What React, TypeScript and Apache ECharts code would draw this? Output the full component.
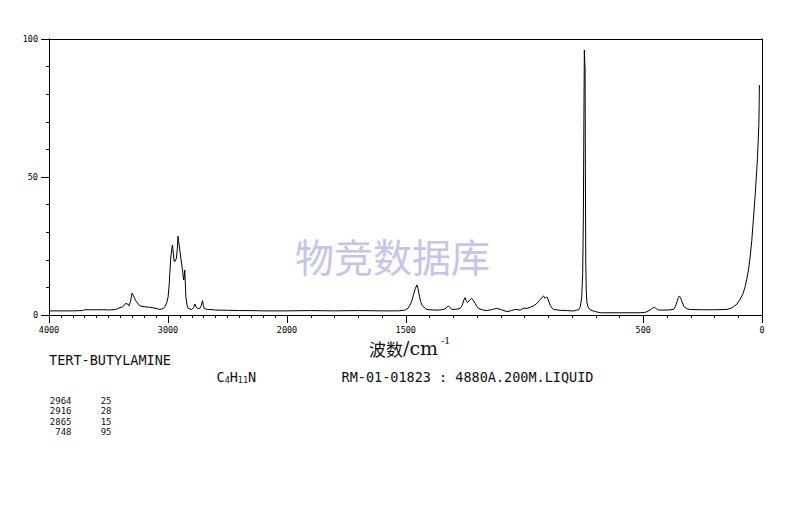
import React, { useEffect, useRef } from "react";
import * as echarts from "echarts";

// Raman spectrum of tert-butylamine (wavenumber in cm-1, relative intensity)
const wavenumbers = [
  4000, 3900, 3800, 3720, 3700, 3600, 3520, 3500, 3440, 3420, 3380, 3356, 3340, 3328, 3315, 3302, 3290, 3275, 3265,
  3238, 3200, 3153, 3100, 3069, 3040, 3027, 3010, 2999, 2990, 2985, 2976, 2968, 2962, 2955, 2948, 2943, 2935, 2929,
  2922, 2916, 2912, 2905, 2901, 2890, 2878, 2870, 2867, 2862, 2859, 2855, 2850, 2840, 2830, 2802, 2785, 2775, 2765,
  2755, 2732, 2720, 2710, 2703, 2696, 2670, 2648, 2600, 2500, 2400, 2300, 2200, 2100, 2000, 1900, 1800, 1700, 1600,
  1530, 1510, 1502, 1490, 1482, 1475, 1468, 1460, 1453, 1448, 1442, 1437, 1432, 1420, 1411, 1380, 1355, 1335, 1320,
  1312, 1306, 1285, 1271, 1262, 1255, 1250, 1245, 1240, 1230, 1222, 1215, 1208, 1200, 1194, 1175, 1159, 1135, 1117,
  1100, 1074, 1055, 1039, 1018, 1002, 990, 976, 960, 948, 935, 925, 920, 913, 906, 900, 892, 885, 878, 850, 822, 794,
  780, 773, 765, 759, 755, 752, 750, 748, 746.5, 745, 743.5, 742, 740, 737.5, 733, 723, 700, 681, 600, 513, 490, 471,
  460, 453, 445, 436, 400, 373, 365, 358, 352, 347.5, 342, 337, 328, 315, 302, 250, 200, 148, 130, 120, 105, 94, 80,
  71, 64, 57, 50, 43, 36, 29, 24, 19, 16, 13, 11,
];
const intensities = [
  1.5, 1.5, 1.5, 1.6, 1.9, 1.9, 1.9, 1.8, 2.0, 2.4, 3.0, 4.2, 4.0, 3.3, 5.0, 7.9, 7.0, 5.5, 4.8,
  3.3, 3.0, 2.8, 2.4, 2.0, 2.3, 3.0, 4.5, 6.6, 11, 15, 21, 24, 25.4, 22, 19.5, 19.3, 20, 20.6,
  24, 28.5, 27, 25, 23.5, 20, 16.3, 13, 12.7, 15, 16.3, 12, 6.6, 3.5, 2.4, 2.0, 2.6, 4.0, 3.0,
  2.4, 2.4, 3.5, 5.2, 3.5, 2.4, 2.0, 2.0, 1.8, 1.7, 1.6, 1.6, 1.5, 1.5, 1.5, 1.6, 1.5, 1.6, 1.5,
  1.5, 1.7, 1.8, 2.5, 3.6, 5.0, 7.2, 9.5, 10.9, 9.5, 6.6, 4.8, 3.6, 2.5, 2.0, 1.8, 1.8, 2.2, 3.3,
  2.6, 2.0, 2.1, 2.4, 3.5, 5.5, 6.3, 5.0, 4.5, 5.5, 6.0, 5.2, 4.2, 3.0, 2.4, 1.8, 1.6, 2.0, 2.4,
  2.0, 1.2, 1.6, 2.0, 1.8, 2.5, 2.4, 2.8, 3.4, 4.2, 5.5, 6.5, 6.9, 6.0, 6.6, 5.5, 3.6, 2.6, 2.0, 1.7, 1.6, 1.45,
  1.8, 1.8, 3.0, 6.6, 15, 37, 70, 96, 92, 89.5, 50, 18.8, 9, 4.8, 3, 1.8, 1.2, 0.8, 0.8, 0.8, 1.0, 1.8,
  2.5, 2.8, 2.3, 1.8, 1.8, 2.0, 3.0, 4.8, 6.3, 6.9, 6.0, 4.8, 3.0, 2.2, 2.0, 1.9, 1.9, 2.0, 2.5, 3.0, 4.0, 5.4, 7.7,
  10.3, 13, 16.3, 21, 27, 35, 43, 50, 57, 63, 69.5, 83.3,
];

const scaleBreak = 2000;
const xTickLabelsHigh = [4000, 3000, 2000];
const xTickLabelsLow = [1500, 500, 0];
const yTickLabels = [0, 50, 100];

const peakWavenumbers = [2964, 2916, 2865, 748];
const peakIntensities = [25, 28, 15, 95];

const compoundName = "TERT-BUTYLAMINE";
const sampleInfo = "RM-01-01823 : 4880A.200M.LIQUID";
const axisTitle = "波数";
const axisUnit = "/cm";
const axisUnitPower = "-1";
const watermarkText = "物竞数据库";

const MONO = '"DejaVu Sans Mono", "Liberation Mono", monospace';
const CJK = '"Noto Sans CJK SC", sans-serif';
const SERIF = '"DejaVu Serif", "Liberation Serif", serif';

const black = { color: "#000", width: 1 };

function buildOption() {
  const points = wavenumbers.map((w, i) => [w, intensities[i]]);
  const highData = points.filter((p) => p[0] >= scaleBreak);
  const lowData = points.filter((p) => p[0] <= scaleBreak);

  const tickLabelStyle = { fontFamily: MONO, fontSize: 8.5, color: "#000" };

  const textStyle = (extra: any) => ({ fill: "#111", ...extra });

  return {
    animation: false,
    backgroundColor: "#fff",
    grid: [
      { left: 49, top: 39, width: 238, height: 276, containLabel: false },
      { left: 287, top: 39, width: 475, height: 276, containLabel: false },
    ],
    xAxis: [
      {
        type: "value",
        gridIndex: 0,
        position: "bottom",
        min: scaleBreak,
        max: 4000,
        inverse: true,
        interval: 1000,
        axisLine: { show: true, onZero: false, lineStyle: black },
        axisTick: { show: true, length: 8, lineStyle: black },
        minorTick: { show: true, splitNumber: 10, length: 3, lineStyle: black },
        splitLine: { show: false },
        minorSplitLine: { show: false },
        axisLabel: {
          show: true,
          margin: 10,
          ...tickLabelStyle,
          formatter: (v: number) => (xTickLabelsHigh.includes(v) ? String(v) : ""),
        },
      },
      {
        type: "value",
        gridIndex: 0,
        position: "top",
        min: scaleBreak,
        max: 4000,
        inverse: true,
        axisLine: { show: true, onZero: false, lineStyle: black },
        axisTick: { show: false },
        axisLabel: { show: false },
        splitLine: { show: false },
      },
      {
        type: "value",
        gridIndex: 1,
        position: "bottom",
        min: 0,
        max: scaleBreak,
        inverse: true,
        interval: 100,
        axisLine: { show: true, onZero: false, lineStyle: black },
        axisTick: { show: true, length: 3, lineStyle: black },
        splitLine: { show: false },
        axisLabel: {
          show: true,
          margin: 10,
          ...tickLabelStyle,
          formatter: (v: number) => (xTickLabelsLow.includes(v) ? String(v) : ""),
        },
      },
      {
        type: "value",
        gridIndex: 1,
        position: "bottom",
        min: 0,
        max: scaleBreak,
        inverse: true,
        axisLine: { show: false, onZero: false },
        axisTick: { show: true, length: 8, lineStyle: black, customValues: xTickLabelsLow },
        axisLabel: { show: false },
        splitLine: { show: false },
      },
      {
        type: "value",
        gridIndex: 1,
        position: "top",
        min: 0,
        max: scaleBreak,
        inverse: true,
        axisLine: { show: true, onZero: false, lineStyle: black },
        axisTick: { show: false },
        axisLabel: { show: false },
        splitLine: { show: false },
      },
    ],
    yAxis: [
      {
        type: "value",
        gridIndex: 0,
        position: "left",
        min: 0,
        max: 100,
        interval: 50,
        axisLine: { show: true, onZero: false, lineStyle: black },
        axisTick: { show: true, length: 8, lineStyle: black },
        minorTick: { show: true, splitNumber: 5, length: 3, lineStyle: black },
        splitLine: { show: false },
        minorSplitLine: { show: false },
        axisLabel: {
          show: true,
          margin: 11,
          ...tickLabelStyle,
          formatter: (v: number) => (yTickLabels.includes(v) ? String(v) : ""),
        },
      },
      {
        type: "value",
        gridIndex: 1,
        position: "right",
        min: 0,
        max: 100,
        axisLine: { show: true, onZero: false, lineStyle: black },
        axisTick: { show: false },
        axisLabel: { show: false },
        splitLine: { show: false },
      },
    ],
    series: [
      {
        type: "line",
        xAxisIndex: 0,
        yAxisIndex: 0,
        data: highData,
        symbol: "none",
        showSymbol: false,
        lineStyle: { color: "#000", width: 1 },
        silent: true,
        z: 5,
      },
      {
        type: "line",
        xAxisIndex: 2,
        yAxisIndex: 1,
        data: lowData,
        symbol: "none",
        showSymbol: false,
        lineStyle: { color: "#000", width: 1 },
        silent: true,
        z: 5,
      },
    ],
    graphic: [
      {
        type: "text",
        x: 392.5,
        y: 255,
        z: 0,
        silent: true,
        style: {
          text: watermarkText,
          fill: "#c4c4ec",
          fontFamily: CJK,
          fontSize: 39,
          align: "center",
          verticalAlign: "middle",
          textAlign: "center",
          textVerticalAlign: "middle",
        },
      },
      {
        type: "text",
        x: 369,
        y: 348,
        style: textStyle({
          text: `{c|${axisTitle}}{l|${axisUnit}}`,
          align: "left",
          verticalAlign: "middle",
          textAlign: "left",
          textVerticalAlign: "middle",
          rich: {
            c: { fontFamily: CJK, fontSize: 17, fill: "#111", lineHeight: 19 },
            l: { fontFamily: SERIF, fontSize: 19, fill: "#111", lineHeight: 19 },
          },
        }),
      },
      {
        type: "text",
        x: 441,
        y: 340,
        style: textStyle({
          text: axisUnitPower,
          fontFamily: SERIF,
          fontSize: 9.5,
          align: "left",
          verticalAlign: "middle",
          textAlign: "left",
          textVerticalAlign: "middle",
        }),
      },
      {
        type: "text",
        x: 49,
        y: 360,
        style: textStyle({
          text: compoundName,
          fontFamily: MONO,
          fontSize: 13.5,
          align: "left",
          verticalAlign: "middle",
          textAlign: "left",
          textVerticalAlign: "middle",
        }),
      },
      {
        type: "text",
        x: 216.5,
        y: 377,
        style: textStyle({
          text: "{b|C}{s|4}{b|H}{s|11}{b|N}",
          align: "left",
          verticalAlign: "middle",
          textAlign: "left",
          textVerticalAlign: "middle",
          rich: {
            b: { fontFamily: MONO, fontSize: 13.5, lineHeight: 14, verticalAlign: "bottom", fill: "#111" },
            s: { fontFamily: MONO, fontSize: 8.5, lineHeight: 11, verticalAlign: "bottom", fill: "#111" },
          },
        }),
      },
      {
        type: "text",
        x: 341.5,
        y: 377,
        style: textStyle({
          text: sampleInfo,
          fontFamily: MONO,
          fontSize: 13.5,
          align: "left",
          verticalAlign: "middle",
          textAlign: "left",
          textVerticalAlign: "middle",
        }),
      },
      {
        type: "text",
        x: 71.5,
        y: 396,
        style: textStyle({
          text: peakWavenumbers.map(String).join("\n"),
          fontFamily: MONO,
          fontSize: 9,
          lineHeight: 10.2,
          align: "right",
          verticalAlign: "top",
          textAlign: "right",
          textVerticalAlign: "top",
        }),
      },
      {
        type: "text",
        x: 111.5,
        y: 396,
        style: textStyle({
          text: peakIntensities.map(String).join("\n"),
          fontFamily: MONO,
          fontSize: 9,
          lineHeight: 10.2,
          align: "right",
          verticalAlign: "top",
          textAlign: "right",
          textVerticalAlign: "top",
        }),
      },
    ],
  };
}

export default function App() {
  const ref = useRef<HTMLDivElement>(null);
  useEffect(() => {
    if (!ref.current) return;
    const chart = echarts.init(ref.current, null, { renderer: "svg" });
    chart.setOption(buildOption() as any);
    return () => chart.dispose();
  }, []);
  return (
    <div
      ref={ref}
      style={{ position: "fixed", left: 0, top: 0, width: 785, height: 510, background: "#fff" }}
    />
  );
}
